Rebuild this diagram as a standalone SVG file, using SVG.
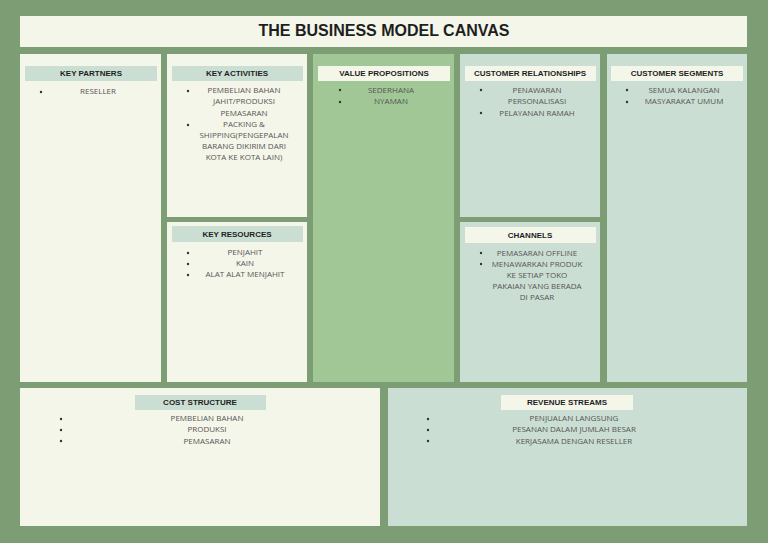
<svg xmlns="http://www.w3.org/2000/svg" width="768" height="543" viewBox="0 0 768 543">
<style>
.cr{fill:#f5f6ea}.sg{fill:#cbded3}.gr{fill:#a1c796}
.h{font-family:"Liberation Sans",Arial,sans-serif;font-weight:bold;font-size:8px;fill:#1e1e1e;text-anchor:middle}
.t{font-family:"Open Sans","DejaVu Sans",sans-serif;font-size:8px;fill:#555;text-anchor:middle}
.b{fill:#333}
</style>
<rect width="768" height="543" fill="#7d9e74"/>
<g id="title"><rect class="cr" x="20" y="16" width="727" height="31"/>
<text x="384" y="36" text-anchor="middle" font-family="'Liberation Sans',Arial,sans-serif" font-weight="900" font-size="16" fill="#1e1e1e">THE BUSINESS MODEL CANVAS</text></g>
<g id="partners"><rect class="cr" x="20" y="54" width="141" height="328"/>
<rect class="sg" x="25" y="66" width="132" height="15"/><text class="h" x="91" y="76">KEY PARTNERS</text>
<circle class="b" cx="41" cy="92" r="1.2"/><text class="t" x="98" y="94">RESELLER</text></g>
<g id="activities"><rect class="cr" x="167" y="54" width="140" height="163"/>
<rect class="sg" x="172" y="66" width="131" height="15"/><text class="h" x="237" y="76">KEY ACTIVITIES</text>
<circle class="b" cx="188" cy="91" r="1.2"/><circle class="b" cx="188" cy="125" r="1.2"/>
<text class="t" x="244" y="93">PEMBELIAN BAHAN</text><text class="t" x="244" y="104">JAHIT/PRODUKSI</text><text class="t" x="244" y="116">PEMASARAN</text><text class="t" x="244" y="127">PACKING &amp;</text><text class="t" x="244" y="138">SHIPPING(PENGEPALAN</text><text class="t" x="244" y="149">BARANG DIKIRIM DARI</text><text class="t" x="244" y="160">KOTA KE KOTA LAIN)</text></g>
<g id="resources"><rect class="cr" x="167" y="222" width="140" height="160"/>
<rect class="sg" x="172" y="226" width="131" height="16"/><text class="h" x="237" y="237">KEY RESOURCES</text>
<circle class="b" cx="188" cy="253" r="1.2"/><circle class="b" cx="188" cy="264" r="1.2"/><circle class="b" cx="188" cy="275" r="1.2"/>
<text class="t" x="245" y="255">PENJAHIT</text><text class="t" x="245" y="266">KAIN</text><text class="t" x="245" y="277">ALAT ALAT MENJAHIT</text></g>
<g id="value"><rect class="gr" x="313" y="54" width="141" height="328"/>
<rect class="cr" x="318" y="66" width="132" height="15"/><text class="h" x="384" y="76">VALUE PROPOSITIONS</text>
<circle class="b" cx="340" cy="90" r="1.2"/><circle class="b" cx="340" cy="102" r="1.2"/>
<text class="t" x="391" y="93">SEDERHANA</text><text class="t" x="391" y="104">NYAMAN</text></g>
<g id="relationships"><rect class="sg" x="460" y="54" width="140" height="163"/>
<rect class="cr" x="465" y="66" width="131" height="15"/><text class="h" x="530" y="76">CUSTOMER RELATIONSHIPS</text>
<circle class="b" cx="481" cy="90" r="1.2"/><circle class="b" cx="481" cy="113" r="1.2"/>
<text class="t" x="537" y="93">PENAWARAN</text><text class="t" x="537" y="104">PERSONALISASI</text><text class="t" x="537" y="116">PELAYANAN RAMAH</text></g>
<g id="channels"><rect class="sg" x="460" y="222" width="140" height="160"/>
<rect class="cr" x="465" y="227" width="131" height="16"/><text class="h" x="530" y="238">CHANNELS</text>
<circle class="b" cx="481" cy="253" r="1.2"/><circle class="b" cx="481" cy="264" r="1.2"/>
<text class="t" x="537" y="256">PEMASARAN OFFLINE</text><text class="t" x="537" y="267">MENAWARKAN PRODUK</text><text class="t" x="537" y="278">KE SETIAP TOKO</text><text class="t" x="537" y="289">PAKAIAN YANG BERADA</text><text class="t" x="537" y="300">DI PASAR</text></g>
<g id="segments"><rect class="sg" x="607" y="54" width="140" height="328"/>
<rect class="cr" x="611" y="66" width="132" height="15"/><text class="h" x="677" y="76">CUSTOMER SEGMENTS</text>
<circle class="b" cx="627" cy="90" r="1.2"/><circle class="b" cx="627" cy="102" r="1.2"/>
<text class="t" x="684" y="93">SEMUA KALANGAN</text><text class="t" x="684" y="104">MASYARAKAT UMUM</text></g>
<g id="cost"><rect class="cr" x="20" y="388" width="360" height="138"/>
<rect class="sg" x="135" y="395" width="131" height="15"/><text class="h" x="200" y="405">COST STRUCTURE</text>
<circle class="b" cx="61" cy="419" r="1.2"/><circle class="b" cx="61" cy="430" r="1.2"/><circle class="b" cx="61" cy="441" r="1.2"/>
<text class="t" x="207" y="421">PEMBELIAN BAHAN</text><text class="t" x="207" y="432">PRODUKSI</text><text class="t" x="207" y="444">PEMASARAN</text></g>
<g id="revenue"><rect class="sg" x="388" y="388" width="359" height="138"/>
<rect class="cr" x="501" y="395" width="132" height="15"/><text class="h" x="567" y="405">REVENUE STREAMS</text>
<circle class="b" cx="428" cy="419" r="1.2"/><circle class="b" cx="428" cy="430" r="1.2"/><circle class="b" cx="428" cy="441" r="1.2"/>
<text class="t" x="574" y="421">PENJUALAN LANGSUNG</text><text class="t" x="574" y="432">PESANAN DALAM JUMLAH BESAR</text><text class="t" x="574" y="444">KERJASAMA DENGAN RESELLER</text></g>
<g id="connectors"/>
</svg>
